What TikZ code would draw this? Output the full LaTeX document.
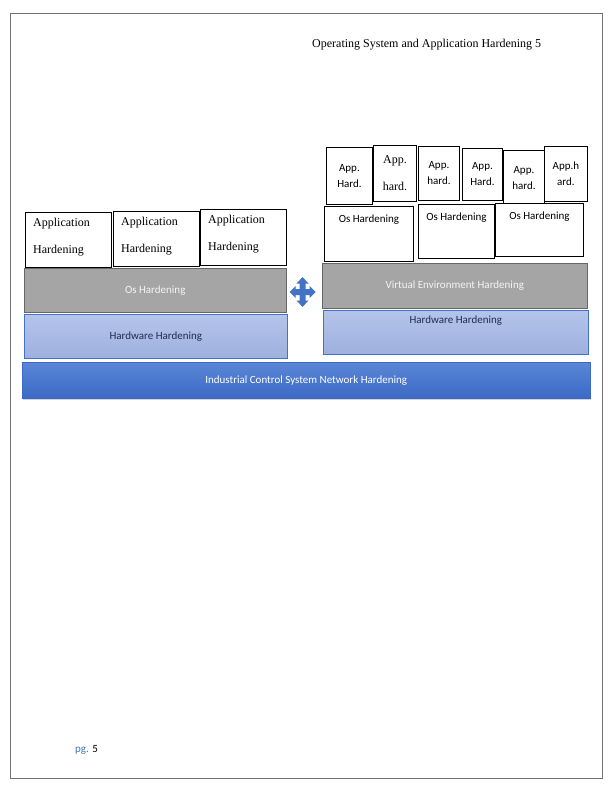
\documentclass[tikz,border=0pt]{standalone}
\usepackage{fontspec}
\setmainfont{Liberation Serif}
\newfontfamily\calib{Carlito}
\usetikzlibrary{positioning,shadows}
\definecolor{accblue}{HTML}{4472C4}
\definecolor{darkblue}{HTML}{2F528F}
\definecolor{barGray}{HTML}{A5A5A5}
\definecolor{hwTop}{HTML}{B4C4EA}
\definecolor{hwBot}{HTML}{9DB0DF}
\definecolor{icsTop}{HTML}{5B86D6}
\definecolor{icsBot}{HTML}{3B6AC6}
\definecolor{navy}{HTML}{1F2D4D}
\tikzset{
  box/.style={draw=black, line width=0.9pt, fill=white, anchor=north west, inner sep=0pt},
  appbox/.style={box, align=center, font=\calib\fontsize{11}{16}\selectfont},
  graybar/.style={anchor=north west, fill=barGray, draw=gray!80!black, line width=0.5pt, text=white!92!gray, font=\calib\fontsize{11}{13}\selectfont},
  hwbar/.style={anchor=north west, top color=hwTop, bottom color=hwBot, draw=accblue, line width=0.6pt, text=navy, font=\calib\fontsize{11}{13}\selectfont},
  lbl/.style={inner sep=0pt, font=\calib\fontsize{11}{13}\selectfont},
  applbl/.style={inner sep=0pt, anchor=north west, align=left, font=\fontsize{12}{27}\selectfont}
}
\begin{document}
\begin{tikzpicture}[x=1pt,y=-1pt]
  \useasboundingbox (0,0) rectangle (612,792);
  \draw[gray!90!black, line width=0.8pt] (10,13) rectangle (602,778);
  \node[anchor=base west, inner sep=0pt, font=\fontsize{12}{14}\selectfont] (head) at (312,48) {Operating System and Application Hardening 5};

  % left stack
  \node[box, minimum width=86, minimum height=55] (app1) at (25,212) {};
  \node[box, minimum width=86, minimum height=55] (app2) at (113,211) {};
  \node[box, minimum width=86, minimum height=56] (app3) at (200,209) {};
  \node[applbl] (app1t) at ([xshift=8pt,yshift=-6pt]app1.north west) {Application\\Hardening};
  \node[applbl] (app2t) at ([xshift=8pt,yshift=-6pt]app2.north west) {Application\\Hardening};
  \node[applbl] (app3t) at ([xshift=8pt,yshift=-6pt]app3.north west) {Application\\Hardening};
  \node[graybar, minimum width=262, minimum height=44] (osL) at (24,268) {Os Hardening};
  \node[hwbar, minimum width=263, minimum height=44] (hwL) at (24,314) {Hardware Hardening};

  % move arrow
  \begin{scope}[shift={(302.5,292)}]
    \fill[accblue] (0,-15) -- (6,-8.5) -- (3,-8.5) -- (3,-3) -- (7,-3) -- (7,-6)
      -- (13,0) -- (7,6) -- (7,3) -- (3,3) -- (3,8.5) -- (6,8.5) -- (0,15) -- (-6,8.5) -- (-3,8.5) -- (-3,3)
      -- (-7,3) -- (-7,6) -- (-13,0) -- (-7,-6) -- (-7,-3) -- (-3,-3) -- (-3,-8.5) -- (-6,-8.5) -- cycle;
  \end{scope}

  % right stack
  \node[appbox, minimum width=46, minimum height=57] (a1) at (326,147) {App.\\Hard.};
  \node[appbox, minimum width=43, minimum height=56, font=\fontsize{12}{27}\selectfont] (a2) at (373,145) {App.\\hard.};
  \node[appbox, minimum width=41, minimum height=54] (a3) at (418,146) {App.\\hard.};
  \node[appbox, minimum width=40, minimum height=52] (a4) at (462,148) {App.\\Hard.};
  \node[appbox, minimum width=41, minimum height=55] (a5) at (503,150) {App.\\hard.};
  \node[appbox, minimum width=43, minimum height=55] (a6) at (544,146) {App.h\\ard.};
  \node[box, minimum width=89, minimum height=55] (os1) at (324,206) {};
  \node[box, minimum width=76, minimum height=54] (os2) at (418,204) {};
  \node[box, minimum width=88, minimum height=53] (os3) at (495,203) {};
  \node[lbl, below=9pt of os1.north] (os1t) {Os Hardening};
  \node[lbl, below=9pt of os2.north] (os2t) {Os Hardening};
  \node[lbl, below=9pt of os3.north] (os3t) {Os Hardening};
  \node[graybar, minimum width=265, minimum height=45] (ve) at (322,263) {Virtual Environment Hardening};
  \node[hwbar, minimum width=265, minimum height=44] (hwR) at (323,310) {};
  \node[lbl, text=navy, below=6pt of hwR.north] (hwRt) {Hardware Hardening};

  % network bar
  \node[anchor=north west, top color=icsTop, bottom color=icsBot, draw=icsBot, line width=0.4pt,
    drop shadow={shadow xshift=0.8pt, shadow yshift=-1.5pt, opacity=0.35},
    minimum width=568, minimum height=36, text=white, font=\calib\fontsize{11}{13}\selectfont] (ics) at (22,362)
    {Industrial Control System Network Hardening};

  \node[anchor=base west, inner sep=0pt, font=\calib\fontsize{11}{13}\selectfont] (pg) at (75,752) {\textcolor{accblue}{pg.} 5};
\end{tikzpicture}
\end{document}
